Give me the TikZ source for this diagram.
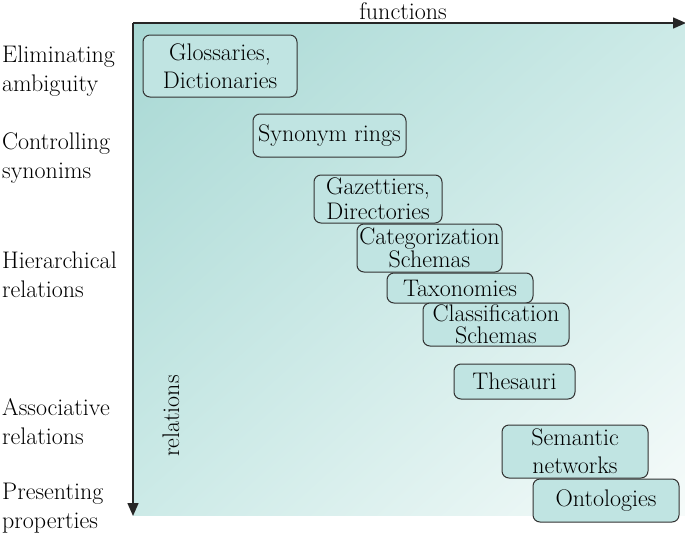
\documentclass[tikz,border=0pt]{standalone}
\usepackage{fontspec}
\usetikzlibrary{arrows.meta,shadings}
\definecolor{tealA}{RGB}{168,216,212}
\definecolor{tealB}{RGB}{204,234,231}
\definecolor{tealC}{RGB}{246,251,250}
\definecolor{boxfill}{RGB}{192,228,226}
\definecolor{boxline}{RGB}{50,50,50}
\begin{document}
\begin{tikzpicture}[x=1pt,y=-1pt,
  font=\fontsize{24}{27}\selectfont,
  box/.style={draw=boxline, line width=1pt, rounded corners=7pt, fill=boxfill, inner sep=0pt},
  btext/.style={inner sep=0pt, align=center, font=\fontsize{24}{#1}\selectfont},
  btext/.default=26,
  side/.style={inner sep=0pt, align=left, anchor=west, font=\fontsize{24}{29}\selectfont},
  axis/.style={line width=1.4pt, draw=black!85, -{Triangle[length=13pt,width=11pt]}}]
\useasboundingbox (0,0) rectangle (685,538);
\shade[upper left=tealA, upper right=tealB, lower left=tealB, lower right=tealC] (133,23) rectangle (685,515);
\coordinate (o) at (133,23);
\coordinate (xe) at (686,23);
\coordinate (ye) at (133,516);
\draw[axis] (o) -- (xe);
\draw[axis] (o) -- (ye);
\node[inner sep=0pt, anchor=base] (fx) at (403,19) {functions};
\node[inner sep=0pt, rotate=90] (rel) at (171,416) {relations};
% side labels
\node[side] (l1) at (2,71) {Eliminating\\ambiguity};
\node[side] (l2) at (2,158) {Controlling\\synonims};
\node[side] (l3) at (2,275) {Hierarchical\\relations};
\node[side] (l4) at (2,422) {Associative\\relations};
\node[side] (l5) at (2,508) {Presenting\\properties};
% boxes
\node[box, minimum width=154, minimum height=62] (b1) at (220,66) {};
\node[btext=28] (t1) at (b1.center) {Glossaries,\\Dictionaries};
\node[box, minimum width=153, minimum height=43] (b2) at (329.5,135.5) {};
\node[btext] (t2) at (b2.center) {Synonym rings};
\node[box, minimum width=128, minimum height=48] (b3) at (378,199) {};
\node[btext=25] (t3) at (b3.center) {Gazettiers,\\Directories};
\node[box, minimum width=145, minimum height=48] (b4) at (429.5,248) {};
\node[btext=23] (t4) at (b4.center) {Categorization\\Schemas};
\node[box, minimum width=146, minimum height=30] (b5) at (460,288) {};
\node[btext] (t5) at (b5.center) {Taxonomies};
\node[box, minimum width=146, minimum height=43] (b6) at (496,324.5) {};
\node[btext=22] (t6) at (b6.center) {Classification\\Schemas};
\node[box, minimum width=121, minimum height=35] (b7) at (514.5,381.5) {};
\node[btext] (t7) at (b7.center) {Thesauri};
\node[box, minimum width=146, minimum height=53] (b8) at (575,451.5) {};
\node[btext=28] (t8) at (b8.center) {Semantic\\networks};
\node[box, minimum width=146, minimum height=43] (b9) at (606,500.5) {};
\node[btext] (t9) at (b9.center) {Ontologies};
\end{tikzpicture}
\end{document}
